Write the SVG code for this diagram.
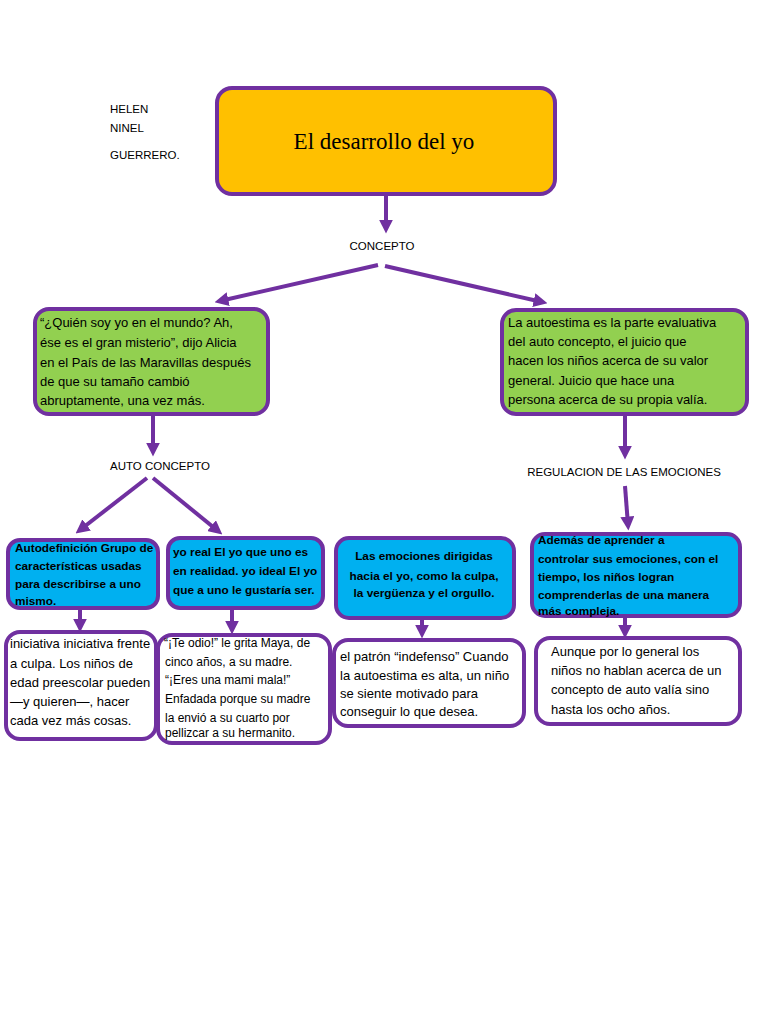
<svg xmlns="http://www.w3.org/2000/svg" width="768" height="1024" viewBox="0 0 768 1024">
<defs>
<style>
.b{stroke:#7030A0;stroke-width:4}
.t{font-family:"Liberation Sans",Arial,sans-serif;fill:#000}
.s{font-size:11.5px}
.g{font-size:13px}
.bl{font-size:11.8px;font-weight:bold}
.w{font-size:13px}
.c{stroke:#7030A0;stroke-width:4;fill:none;marker-end:url(#a)}
</style>
<marker id="a" viewBox="0 0 10 10" refX="6" refY="5" markerWidth="3.5" markerHeight="3.5" orient="auto" markerUnits="strokeWidth"><path d="M0,0L10,5L0,10z" fill="#7030A0"/></marker>
</defs>
<rect width="768" height="1024" fill="#fff"/>
<g id="author" class="t s"><text x="110" y="113">HELEN</text><text x="110" y="132">NINEL</text><text x="110" y="159">GUERRERO.</text></g>
<g id="title"><rect class="b" x="217" y="88" width="338" height="106" rx="15" fill="#FFC000"/><text x="384" y="149" text-anchor="middle" font-family="Liberation Serif,serif" font-size="23">El desarrollo del yo</text></g>
<g id="labels" class="t s"><text x="382" y="250" text-anchor="middle">CONCEPTO</text><text x="160" y="470" text-anchor="middle">AUTO CONCEPTO</text><text x="624" y="476" text-anchor="middle">REGULACION DE LAS EMOCIONES</text></g>
<g id="connectors">
<line class="c" x1="386" y1="195" x2="386" y2="228"/>
<line class="c" x1="378" y1="265" x2="220" y2="301"/>
<line class="c" x1="385" y1="266" x2="542" y2="302"/>
<line class="c" x1="153" y1="416" x2="153" y2="451"/>
<line class="c" x1="625" y1="416" x2="625" y2="454"/>
<line class="c" x1="147" y1="478" x2="80" y2="530"/>
<line class="c" x1="153" y1="478" x2="218" y2="531"/>
<line class="c" x1="625" y1="486" x2="628" y2="525"/>
<line class="c" x1="80" y1="608" x2="80" y2="627"/>
<line class="c" x1="232" y1="610" x2="232" y2="629"/>
<line class="c" x1="422" y1="618" x2="422" y2="633"/>
<line class="c" x1="625" y1="616" x2="625" y2="633"/>
</g>
<g id="g1"><rect class="b" x="35" y="309" width="233" height="105" rx="14" fill="#92D050"/><g class="t g"><text x="40" y="327">“¿Quién soy yo en el mundo? Ah,</text><text x="40" y="347">ése es el gran misterio”, dijo Alicia</text><text x="40" y="367">en el País de las Maravillas después</text><text x="40" y="386">de que su tamaño cambió</text><text x="40" y="405">abruptamente, una vez más.</text></g></g>
<g id="g2"><rect class="b" x="502" y="310" width="245" height="104" rx="14" fill="#92D050"/><g class="t g"><text x="508" y="327">La autoestima es la parte evaluativa</text><text x="508" y="346">del auto concepto, el juicio que</text><text x="508" y="365">hacen los niños acerca de su valor</text><text x="508" y="385">general. Juicio que hace una</text><text x="508" y="404">persona acerca de su propia valía.</text></g></g>
<g id="b1"><rect class="b" x="8" y="540" width="150" height="68" rx="12" fill="#00B0F0"/><g class="t bl"><text x="15" y="552">Autodefinición Grupo de</text><text x="15" y="570">características usadas</text><text x="15" y="588">para describirse a uno</text><text x="15" y="605">mismo.</text></g></g>
<g id="b2"><rect class="b" x="168" y="538" width="155" height="70" rx="12" fill="#00B0F0"/><g class="t bl"><text x="173" y="556">yo real El yo que uno es</text><text x="173" y="575">en realidad. yo ideal El yo</text><text x="173" y="594">que a uno le gustaría ser.</text></g></g>
<g id="b3"><rect class="b" x="336" y="538" width="178" height="80" rx="13" fill="#00B0F0"/><g class="t bl" text-anchor="middle"><text x="424" y="560">Las emociones dirigidas</text><text x="424" y="580">hacia el yo, como la culpa,</text><text x="424" y="597">la vergüenza y el orgullo.</text></g></g>
<g id="b4"><rect class="b" x="532" y="534" width="208" height="82" rx="13" fill="#00B0F0"/><g class="t bl"><text x="538" y="544">Además de aprender a</text><text x="538" y="563">controlar sus emociones, con el</text><text x="538" y="581">tiempo, los niños logran</text><text x="538" y="599">comprenderlas de una manera</text><text x="538" y="615">más compleja.</text></g></g>
<g id="w1"><rect class="b" x="6" y="632" width="150" height="107" rx="14" fill="#fff"/><g class="t w"><text x="10" y="648">iniciativa iniciativa frente</text><text x="10" y="668">a culpa. Los niños de</text><text x="10" y="687">edad preescolar pueden</text><text x="10" y="706">—y quieren—, hacer</text><text x="10" y="725">cada vez más cosas.</text></g></g>
<g id="w2"><rect class="b" x="158" y="635" width="172" height="108" rx="14" fill="#fff"/><g class="t w"><text x="164" y="647" font-size="12">“¡Te odio!” le grita Maya, de</text><text x="165" y="666" font-size="12">cinco años, a su madre.</text><text x="165" y="684" font-size="12">“¡Eres una mami mala!”</text><text x="165" y="703" font-size="12">Enfadada porque su madre</text><text x="165" y="722" font-size="12">la envió a su cuarto por</text><text x="165" y="737" font-size="12">pellizcar a su hermanito.</text></g></g>
<g id="w3"><rect class="b" x="334" y="640" width="190" height="86" rx="14" fill="#fff"/><g class="t w"><text x="340" y="661">el patrón “indefenso” Cuando</text><text x="340" y="680">la autoestima es alta, un niño</text><text x="340" y="698">se siente motivado para</text><text x="340" y="716">conseguir lo que desea.</text></g></g>
<g id="w4"><rect class="b" x="536" y="638" width="204" height="86" rx="14" fill="#fff"/><g class="t w"><text x="551" y="656">Aunque por lo general los</text><text x="551" y="675">niños no hablan acerca de un</text><text x="551" y="694">concepto de auto valía sino</text><text x="551" y="714">hasta los ocho años.</text></g></g>
</svg>
